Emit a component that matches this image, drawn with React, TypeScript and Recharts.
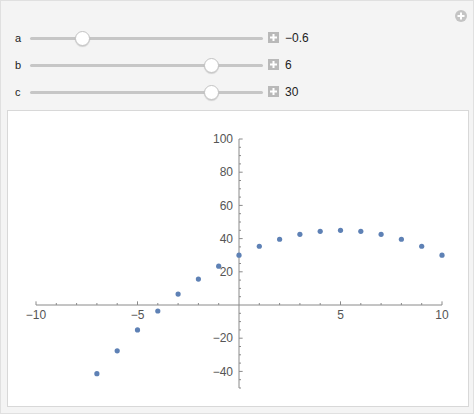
import React from 'react'
import { ScatterChart, Scatter, XAxis, YAxis, ReferenceLine, ReferenceDot } from 'recharts'

// values
const xValues = [-7, -6, -5, -4, -3, -2, -1, 0, 1, 2, 3, 4, 5, 6, 7, 8, 9, 10]
const yValues = [-41.4, -27.6, -15, -3.6, 6.6, 15.6, 23.4, 30, 35.4, 39.6, 42.6, 44.4, 45, 44.4, 42.6, 39.6, 35.4, 30]

const xMajorTicks = [-10, -5, 5, 10]
const xMinorTicks = [-9, -8, -7, -6, -4, -3, -2, -1, 1, 2, 3, 4, 6, 7, 8, 9]
const yMajorTicks = [-40, -20, 20, 40, 60, 80, 100]
const yMinorTicks = [-50, -45, -35, -30, -25, -15, -10, -5, 5, 10, 15, 25, 30, 35, 45, 50, 55, 65, 70, 75, 85, 90, 95]

const sliderNames = ['a', 'b', 'c']
const sliderLabels = ['\u22120.6', '6', '30']
const sliderKnobs = [81, 210, 210]

const data = xValues.map((x, i) => ({ x, y: yValues[i] }))

const fmt = (v: number) => (v < 0 ? '\u2212' + Math.abs(v) : String(v))

const axisColor = '#8a8a8a'
const labelStyle = { fill: '#555', fontSize: 12, fontFamily: '"Liberation Sans", Arial, sans-serif' }

function PlusBox({ left, top }: { left: number; top: number }) {
	return (
		<svg width={11} height={11} style={{ position: 'absolute', left, top }}>
			<rect x={0} y={0} width={11} height={11} fill='#b9b9b9' />
			<rect x={2} y={4.5} width={7} height={2} fill='#fff' />
			<rect x={4.5} y={2} width={2} height={7} fill='#fff' />
		</svg>
	)
}

function Slider({ name, label, knob, cy }: { name: string; label: string; knob: number; cy: number }) {
	return (
		<>
			<div style={{ position: 'absolute', left: 14, top: cy - 8, fontSize: 11, lineHeight: '16px' }}>{name}</div>
			<div style={{ position: 'absolute', left: 29, top: cy - 1.5, width: 233, height: 3, background: '#c6c6c6', borderRadius: 2 }} />
			<div
				style={{
					position: 'absolute',
					left: knob - 7.5,
					top: cy - 7.5,
					width: 15,
					height: 15,
					borderRadius: '50%',
					background: '#fff',
					border: '1px solid #c4c4c4',
					boxSizing: 'border-box',
					boxShadow: '0 1px 1px rgba(0,0,0,0.15)',
				}}
			/>
			<PlusBox left={267} top={cy - 6} />
			<div style={{ position: 'absolute', left: 284, top: cy - 8, fontSize: 12, lineHeight: '16px' }}>{label}</div>
		</>
	)
}

export default function App() {
	return (
		<div
			style={{
				position: 'absolute',
				left: 0,
				top: 0,
				width: 474,
				height: 414,
				background: '#f4f4f4',
				border: '1px solid #e0e0e0',
				boxSizing: 'border-box',
				fontFamily: '"Liberation Sans", Arial, sans-serif',
				color: '#222',
			}}
		>
			<svg width={14} height={14} style={{ position: 'absolute', left: 453, top: 8 }}>
				<circle cx={7} cy={7} r={6} fill='#c4c4c4' />
				<rect x={3.5} y={6} width={7} height={2} fill='#fff' />
				<rect x={6} y={3.5} width={2} height={7} fill='#fff' />
			</svg>
			{sliderNames.map((n, i) => (
				<Slider key={n} name={n} label={sliderLabels[i]} knob={sliderKnobs[i]} cy={37 + i * 27} />
			))}
			<div
				style={{
					position: 'absolute',
					left: 6,
					top: 109,
					width: 462,
					height: 297,
					background: '#fff',
					border: '1px solid #d8d8d8',
					boxSizing: 'border-box',
				}}
			>
				<ScatterChart width={460} height={295} margin={{ top: 28, right: 26, bottom: 18, left: 28 }}>
					<XAxis type='number' dataKey='x' domain={[-10, 10]} hide />
					<YAxis type='number' dataKey='y' domain={[-50, 100]} hide />
					<ReferenceLine y={0} stroke={axisColor} strokeWidth={1} />
					<ReferenceLine x={0} stroke={axisColor} strokeWidth={1} />
					{xMajorTicks.map((v) => (
						<ReferenceLine key={'xM' + v} segment={[{ x: v, y: 0 }, { x: v, y: 2.2 }]} stroke={axisColor} ifOverflow='visible' />
					))}
					{xMinorTicks.map((v) => (
						<ReferenceLine key={'xm' + v} segment={[{ x: v, y: 0 }, { x: v, y: 1.2 }]} stroke={axisColor} ifOverflow='visible' />
					))}
					{yMajorTicks.map((v) => (
						<ReferenceLine key={'yM' + v} segment={[{ x: 0, y: v }, { x: 0.18, y: v }]} stroke={axisColor} ifOverflow='visible' />
					))}
					{yMinorTicks.map((v) => (
						<ReferenceLine key={'ym' + v} segment={[{ x: 0, y: v }, { x: 0.1, y: v }]} stroke={axisColor} ifOverflow='visible' />
					))}
					{xMajorTicks.map((v) => (
						<ReferenceDot
							key={'xl' + v}
							x={v}
							y={0}
							r={0}
							fill='none'
							stroke='none'
							ifOverflow='visible'
							label={{ value: fmt(v), position: 'bottom', offset: 5, style: labelStyle }}
						/>
					))}
					{yMajorTicks.map((v) => (
						<ReferenceDot
							key={'yl' + v}
							x={0}
							y={v}
							r={0}
							fill='none'
							stroke='none'
							ifOverflow='visible'
							label={{ value: fmt(v), position: 'left', offset: 6, style: labelStyle }}
						/>
					))}
					<Scatter
						data={data}
						isAnimationActive={false}
						shape={(p: any) => <circle cx={p.cx} cy={p.cy} r={2.6} fill='#5e81b5' />}
					/>
				</ScatterChart>
			</div>
		</div>
	)
}
